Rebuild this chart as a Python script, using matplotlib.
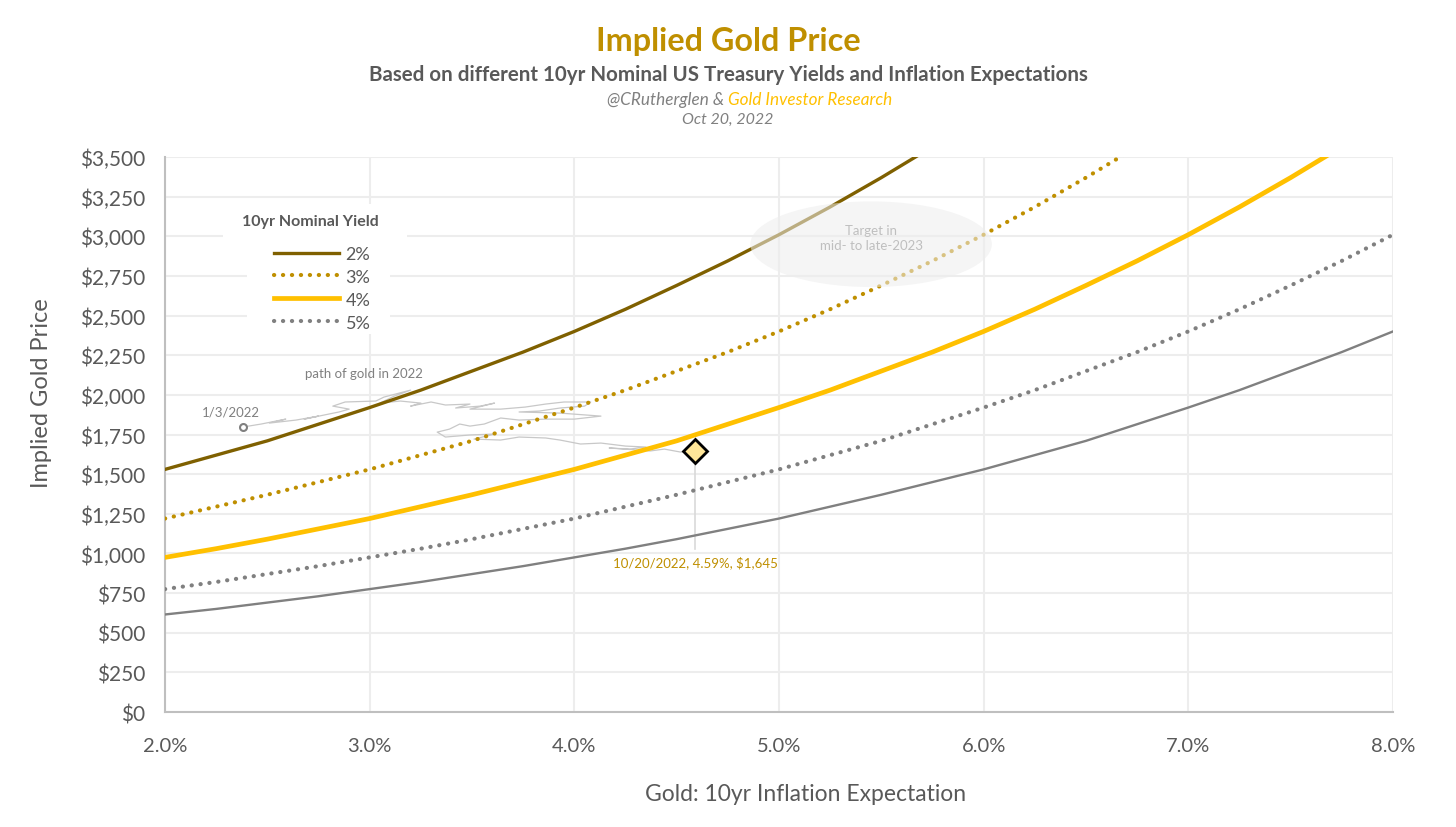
import matplotlib
matplotlib.use("Agg")
import matplotlib.pyplot as plt
from matplotlib.patches import Ellipse, Rectangle
from matplotlib.ticker import FuncFormatter, MultipleLocator

plt.rcParams['font.family'] = ['Lato', 'DejaVu Sans']

# ---------------- data ----------------
inflation = [2.0, 2.25, 2.5, 2.75, 3.0, 3.25, 3.5, 3.75, 4.0, 4.25, 4.5, 4.75, 5.0,
             5.25, 5.5, 5.75, 6.0, 6.25, 6.5, 6.75, 7.0, 7.25, 7.5, 7.75, 8.0]
price_y2 = [1530, 1620, 1710, 1815, 1920, 2030, 2150, 2270, 2400, 2540, 2690, 2845,
            3010, 3185, 3370, 3565]
price_y3 = [1220, 1295, 1370, 1450, 1530, 1620, 1710, 1815, 1920, 2030, 2150, 2270,
            2400, 2540, 2690, 2845, 3010, 3185, 3370, 3565]
price_y4 = [975, 1030, 1090, 1155, 1220, 1295, 1370, 1450, 1530, 1620, 1710, 1815,
            1920, 2030, 2150, 2270, 2400, 2540, 2690, 2845, 3010, 3185, 3370, 3565, 3770]
price_y5 = [775, 820, 870, 920, 975, 1030, 1090, 1155, 1220, 1295, 1370, 1450,
            1530, 1620, 1710, 1815, 1920, 2030, 2150, 2270, 2400, 2540, 2690, 2845, 3010]
price_y6 = [615, 650, 690, 730, 775, 820, 870, 920, 975, 1030, 1090, 1155,
            1220, 1295, 1370, 1450, 1530, 1620, 1710, 1815, 1920, 2030, 2150, 2270, 2400]

path_x = [2.38, 2.47, 2.59, 2.51, 2.64, 2.75, 2.68, 2.85, 2.90, 2.82, 2.88, 3.03, 3.07,
          3.20, 3.12, 3.05, 3.15, 3.25, 3.20, 3.30, 3.37, 3.49, 3.42, 3.54, 3.61, 3.49,
          3.64, 3.76, 3.86, 3.95, 4.08, 4.05, 3.93, 3.83, 3.73, 3.93, 4.13, 4.00, 3.86,
          3.73, 3.64, 3.56, 3.49, 3.44, 3.39, 3.33, 3.37, 3.49, 3.61, 3.51, 3.64, 3.73,
          3.86, 3.93, 4.03, 4.13, 4.25, 4.35, 4.27, 4.17, 4.37, 4.44, 4.52, 4.59]
path_y = [1797, 1816, 1847, 1822, 1841, 1866, 1847, 1892, 1910, 1929, 1955, 1961, 1986,
          2030, 1992, 1948, 1961, 1948, 1929, 1955, 1936, 1942, 1917, 1929, 1948, 1910,
          1910, 1923, 1942, 1955, 1955, 1929, 1917, 1898, 1892, 1885, 1866, 1847, 1847,
          1841, 1854, 1816, 1803, 1816, 1784, 1765, 1734, 1747, 1753, 1721, 1715, 1734,
          1728, 1715, 1690, 1696, 1677, 1671, 1658, 1665, 1646, 1658, 1639, 1645]

current_x = 4.59
current_y = 1645
current_label = "10/20/2022, 4.59%, $1,645"
start_label = "1/3/2022"

target_x, target_y = 5.45, 2950
target_w, target_h = 1.18, 540

series_labels = ["2%", "3%", "4%", "5%"]

# ---------------- figure ----------------
fig = plt.figure(figsize=(14.56, 8.28), dpi=100)
ax = fig.add_axes([165/1456, 1-713/828, (1393-165)/1456, (713-158)/828])

gold_dark = "#7F6000"
gold_mid = "#BF8F00"
gold = "#FFC000"
gray = "#808080"
txt = "#595959"

dot = (0, (0.05, 2.1))
l2, = ax.plot(inflation[:len(price_y2)], price_y2, color=gold_dark, lw=2.4, zorder=4)
l3, = ax.plot(inflation[:len(price_y3)], price_y3, color=gold_mid, lw=3.0, ls=dot,
              dash_capstyle='round', zorder=4)
l4, = ax.plot(inflation, price_y4, color=gold, lw=3.4, zorder=4)
l5, = ax.plot(inflation, price_y5, color=gray, lw=3.0, ls=dot,
              dash_capstyle='round', zorder=4)
ax.plot(inflation, price_y6, color=gray, lw=1.7, zorder=4)

# path of gold
ax.plot(path_x, path_y, color="#C8C8C8", lw=0.9, zorder=3)
ax.plot(path_x[0], path_y[0], marker='o', ms=5, mfc='white', mec=gray, mew=1.5, zorder=5)
ax.text(path_x[0] - 0.06, path_y[0] + 95, start_label, fontsize=9.5, color=gray,
        ha='center', va='center', zorder=5)
ax.text(2.97, 2137, "path of gold in 2022", fontsize=9.5, color=gray,
        ha='center', va='center', zorder=5)

# current point
ax.plot([current_x, current_x], [current_y, 1028], color="#D9D9D9", lw=1.2, zorder=3)
ax.plot(current_x, current_y, marker='D', ms=12, mfc="#FFE699", mec='black', mew=2, zorder=6)
ax.text(current_x, 947, current_label, fontsize=9.5, color=gold_mid,
        ha='center', va='center', zorder=6)

# target ellipse
ax.add_patch(Ellipse((target_x, target_y), target_w, target_h, facecolor="#EDEDED",
                     edgecolor='none', alpha=0.55, zorder=5))
ax.text(target_x, 2990, "Target in\nmid- to late-2023", fontsize=9.5, color="#BFBFBF",
        ha='center', va='center', zorder=6, linespacing=1.3)

# axes styling
ax.set_xlim(2.0, 8.0)
ax.set_ylim(0, 3500)
ax.xaxis.set_major_locator(MultipleLocator(1.0))
ax.yaxis.set_major_locator(MultipleLocator(250))
ax.xaxis.set_major_formatter(FuncFormatter(lambda v, p: f"{v:.1f}%"))
ax.yaxis.set_major_formatter(FuncFormatter(lambda v, p: f"${v:,.0f}"))
ax.grid(True, color="#EDEDED", lw=1.5, zorder=0)
ax.set_axisbelow(True)
for s in ['top', 'right']:
    ax.spines[s].set_visible(False)
ax.spines['left'].set_color("#BFBFBF")
ax.spines['bottom'].set_color("#BFBFBF")
ax.spines['left'].set_linewidth(1.5)
ax.spines['bottom'].set_linewidth(1.5)
ax.tick_params(axis='y', length=0, labelsize=15, labelcolor=txt, pad=14)
ax.tick_params(axis='x', length=0, labelsize=14.5, labelcolor=txt, pad=18)

ax.set_xlabel("Gold: 10yr Inflation Expectation", fontsize=16.5, color=txt)
ax.xaxis.set_label_coords(0.522, -0.128)
ax.set_ylabel("Implied Gold Price", fontsize=17, color=txt)
ax.yaxis.set_label_coords(-0.092, 0.577)

# legend (white boxes behind title and entries)
ax.add_patch(Rectangle((0.0472, 0.843), 0.1498, 0.072, transform=ax.transAxes,
                       facecolor='white', edgecolor='none', zorder=1))
ax.add_patch(Rectangle((0.0668, 0.681), 0.1164, 0.171, transform=ax.transAxes,
                       facecolor='white', edgecolor='none', zorder=1))
ax.text(0.118, 0.885, "10yr Nominal Yield", transform=ax.transAxes, ha='center',
        va='center', fontsize=11.5, fontweight='bold', color=txt, zorder=2)
leg = ax.legend([l2, l3, l4, l5], series_labels,
                loc='upper left', bbox_to_anchor=(0.0757, 0.869), frameon=False,
                fontsize=13, handlelength=3.6, labelspacing=0.38, borderpad=0.4,
                handletextpad=0.35)
for t in leg.get_texts():
    t.set_color(txt)

# titles
fig.text(0.5, 1-42/828, "Implied Gold Price", ha='center', va='center',
         fontsize=23.3, fontweight='bold', color=gold_mid)
fig.text(0.5, 1-75/828, "Based on different 10yr Nominal US Treasury Yields and Inflation Expectations",
         ha='center', va='center', fontsize=14.8, fontweight='bold', color=txt)
fig.text(0.5, 1-100/828, "@CRutherglen & ", ha='right', va='center',
         fontsize=12.3, style='italic', color=gray)
fig.text(0.5, 1-100/828, "Gold Investor Research", ha='left', va='center',
         fontsize=12.3, style='italic', color=gold)
fig.text(0.5, 1-120/828, "Oct 20, 2022", ha='center', va='center',
         fontsize=11.5, style='italic', color=gray)

fig.savefig("out.png", dpi=100, facecolor='white')
